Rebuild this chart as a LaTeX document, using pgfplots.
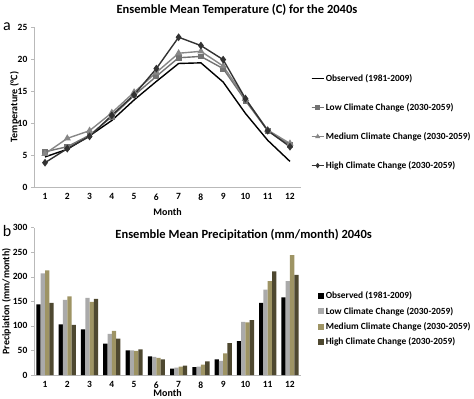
\documentclass[border=0pt]{standalone}
\usepackage{pgfplots}
\pgfplotsset{compat=1.18}
\usepackage{fontspec}
\setmainfont{Carlito}
\definecolor{lowc}{RGB}{170,170,170}
\definecolor{medc}{RGB}{158,148,100}
\definecolor{highc}{RGB}{78,72,48}
\definecolor{lowl}{RGB}{115,115,115}
\definecolor{medl}{RGB}{135,135,135}
\definecolor{highl}{RGB}{50,50,50}
\definecolor{axg}{RGB}{185,185,185}
\begin{document}
\begin{tikzpicture}
\path[use as bounding box] (0,0) rectangle (474pt,-399pt);
\pgfplotsset{common/.style={
  scale only axis, anchor=south west, width=267.2pt,
  xmin=0.5, xmax=12.5, xtick={1,...,12},
  axis x line*=bottom, axis y line*=left,
  axis line style={draw=axg, line width=0.6pt},
  xtick style={draw=none}, ytick style={draw=axg, line width=0.6pt},
  tick align=outside, major tick length=3pt,
  tick label style={font=\bfseries\fontsize{9.5}{10}\selectfont},
  /pgf/number format/assume math mode=true,
  legend cell align=left, clip=false,
}}
\node[font=\bfseries\fontsize{12.5}{14}\selectfont] at (237pt,-10pt) {Ensemble Mean Temperature (C) for the 2040s};
\node[font=\fontsize{16}{18}\selectfont] at (7pt,-27pt) {a};
\node[font=\fontsize{16}{18}\selectfont] at (7pt,-231pt) {b};
\begin{axis}[common, at={(33.9pt,-187pt)}, height=160pt,
  ymin=0, ymax=25, ytick={0,5,...,25},
  xlabel={Month}, xlabel style={font=\bfseries\fontsize{10}{11}\selectfont, yshift=-1pt},
  ylabel={Temperature (°C)}, ylabel style={font=\bfseries\fontsize{10}{11}\selectfont, yshift=-8pt},
  legend style={at={(1.025,0.73)}, anchor=north west, draw=none, fill=none,
    font=\bfseries\fontsize{9.4}{11}\selectfont, row sep=16.5pt,
    nodes={inner xsep=1.5pt}},
  legend image code/.code={\draw[#1, mark size=1.6pt] (0pt,0pt) -- (12pt,0pt); \draw[#1, mark size=1.6pt, mark repeat=2, mark phase=2] plot coordinates {(0pt,0pt) (6pt,0pt) (12pt,0pt)};},
]
\addplot[black, line width=1.4pt] coordinates {(1,4.7)(2,5.9)(3,8.0)(4,10.4)(5,13.6)(6,16.5)(7,19.3)(8,19.4)(9,16.4)(10,11.5)(11,7.3)(12,4.0)};
\addlegendentry{Observed (1981-2009)}
\addplot[lowl, line width=1.4pt, mark=square*, mark size=2.2pt] coordinates {(1,5.5)(2,6.3)(3,8.1)(4,11.0)(5,14.3)(6,17.3)(7,20.2)(8,20.4)(9,18.5)(10,13.5)(11,8.8)(12,6.6)};
\addlegendentry{Low Climate Change (2030-2059)}
\addplot[medl, line width=1.4pt, mark=triangle*, mark size=2.8pt] coordinates {(1,5.2)(2,7.6)(3,8.8)(4,11.6)(5,14.8)(6,17.9)(7,20.9)(8,21.2)(9,18.9)(10,13.8)(11,8.9)(12,6.8)};
\addlegendentry{Medium Climate Change (2030-2059)}
\addplot[highl, line width=1.4pt, mark=diamond*, mark size=2.8pt] coordinates {(1,3.8)(2,6.0)(3,7.9)(4,11.2)(5,14.4)(6,18.5)(7,23.4)(8,22.1)(9,19.9)(10,13.8)(11,8.8)(12,6.3)};
\addlegendentry{High Climate Change (2030-2059)}
\end{axis}
\begin{axis}[common, at={(33.9pt,-375pt)}, height=147.3pt,
  ymin=0, ymax=300, ytick={0,50,...,300},
  ybar=0pt, bar width=4.3pt,
  xlabel={Month}, xlabel style={font=\bfseries\fontsize{10}{11}\selectfont, yshift=5.5pt},
  ylabel={Precipiation (mm/month)}, ylabel style={font=\bfseries\fontsize{10}{11}\selectfont, yshift=-5pt},
  legend style={at={(1.052,0.595)}, anchor=north west, draw=none, fill=none,
    font=\bfseries\fontsize{9.4}{11}\selectfont, row sep=3pt},
  legend image code/.code={\fill[#1] (0pt,-2.8pt) rectangle (5.6pt,2.8pt);},
]
\node[font=\bfseries\fontsize{12.5}{14}\selectfont] at (rel axis cs:0.785,0.95) {Ensemble Mean Precipitation (mm/month) 2040s};
\addplot[fill=black, draw=none] coordinates {(1,144)(2,103)(3,93)(4,64)(5,50)(6,38)(7,13)(8,16)(9,32)(10,69)(11,147)(12,158)};
\addlegendentry{Observed (1981-2009)}
\addplot[fill=lowc, draw=none] coordinates {(1,207)(2,153)(3,157)(4,84)(5,50)(6,37)(7,15)(8,17)(9,29)(10,108)(11,174)(12,191)};
\addlegendentry{Low Climate Change (2030-2059)}
\addplot[fill=medc, draw=none] coordinates {(1,213)(2,160)(3,149)(4,90)(5,49)(6,35)(7,17)(8,21)(9,44)(10,107)(11,191)(12,244)};
\addlegendentry{Medium Climate Change (2030-2059)}
\addplot[fill=highc, draw=none] coordinates {(1,147)(2,102)(3,155)(4,74)(5,52)(6,32)(7,19)(8,28)(9,65)(10,112)(11,211)(12,204)};
\addlegendentry{High Climate Change (2030-2059)}
\end{axis}
\end{tikzpicture}
\end{document}
